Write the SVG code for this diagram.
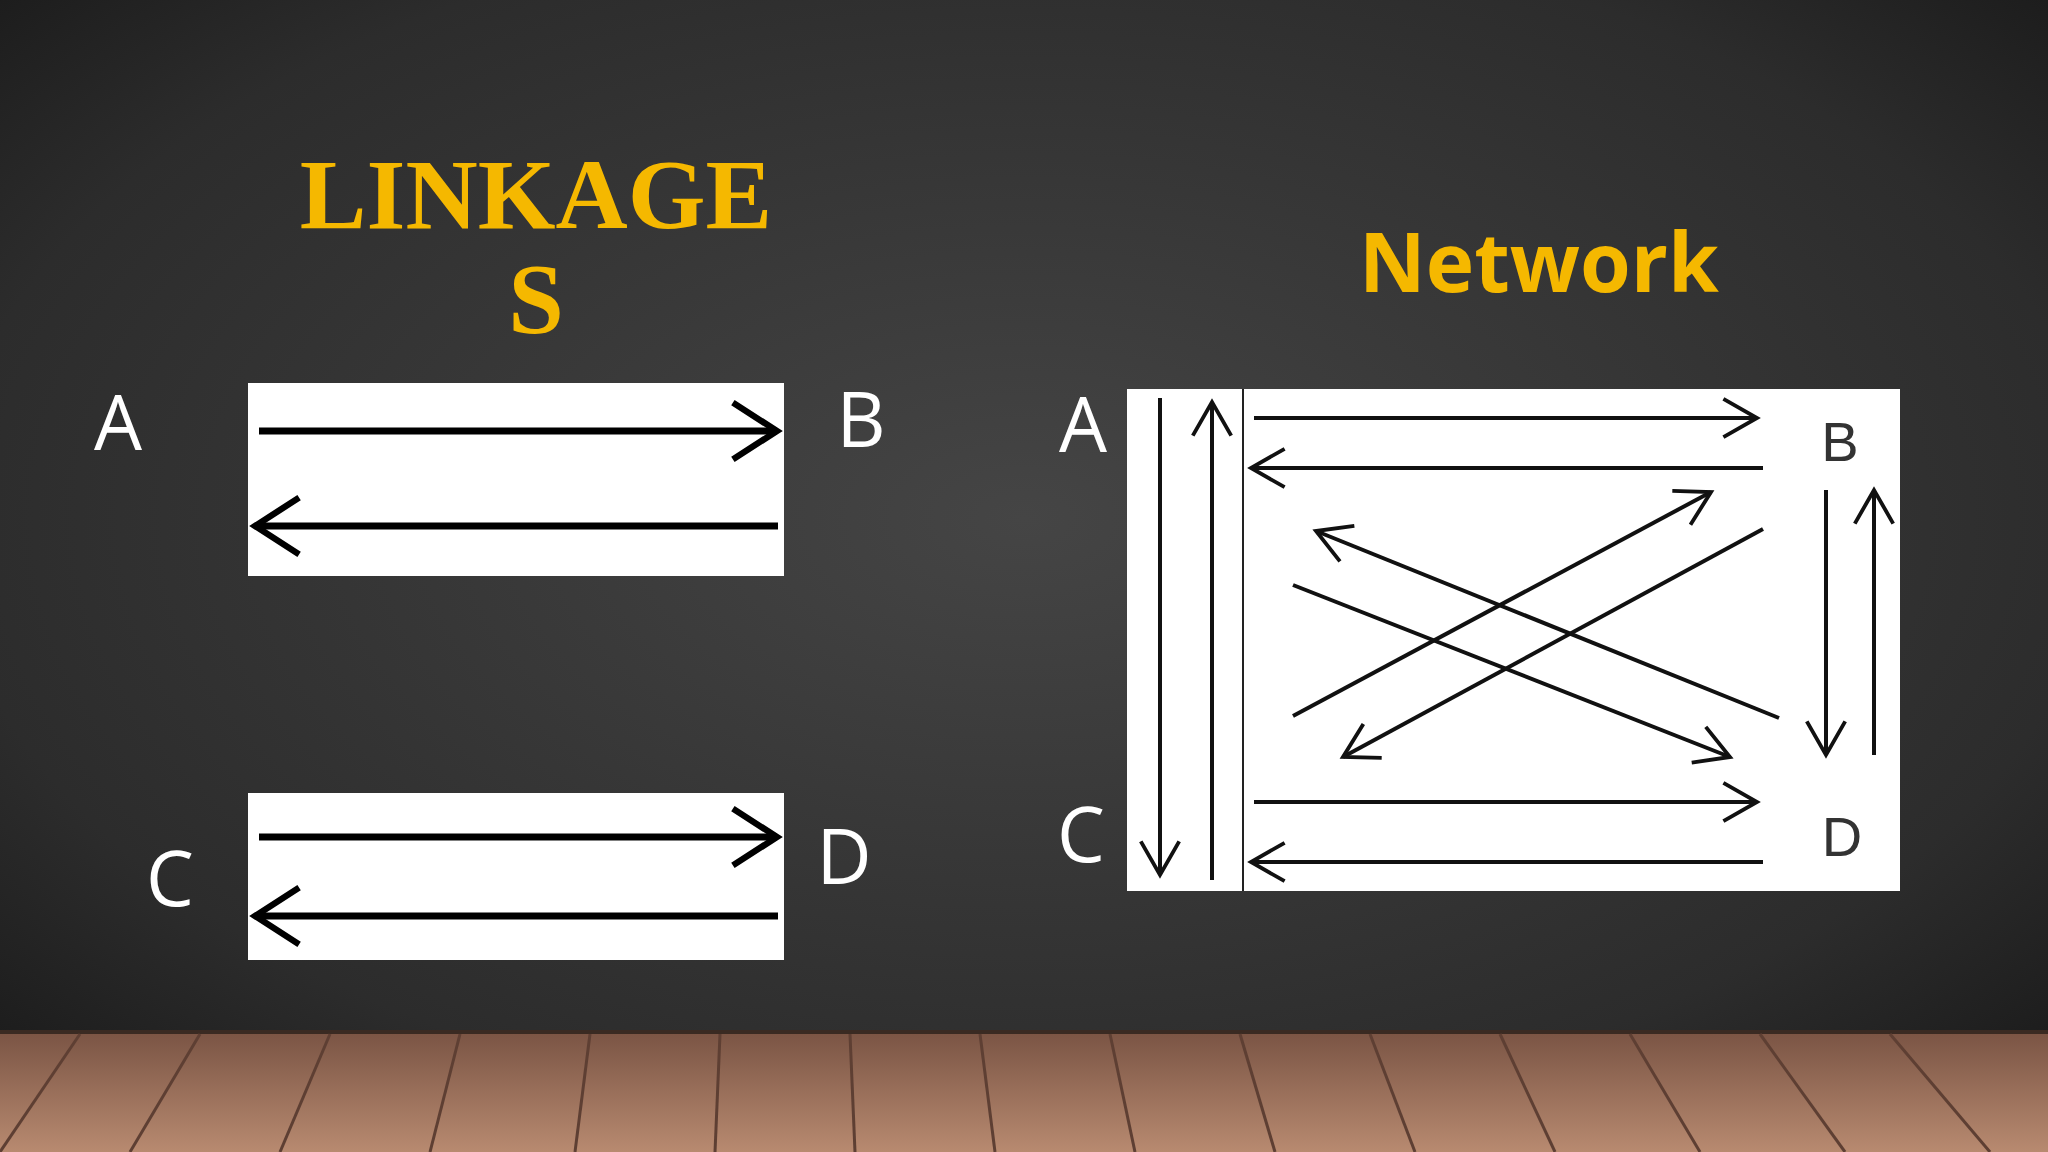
<svg xmlns="http://www.w3.org/2000/svg" width="2048" height="1152" viewBox="0 0 2048 1152">
<defs>
<radialGradient id="bg" cx="0.5" cy="0.45" r="0.75">
<stop offset="0" stop-color="#454545"/><stop offset="0.7" stop-color="#2c2c2c"/><stop offset="1" stop-color="#151515"/>
</radialGradient>
<linearGradient id="floor" x1="0" y1="0" x2="0" y2="1">
<stop offset="0" stop-color="#7a5444"/><stop offset="1" stop-color="#b88a70"/>
</linearGradient>
<marker id="v" viewBox="0 0 20 20" refX="18" refY="10" markerWidth="9" markerHeight="11" markerUnits="strokeWidth" orient="auto">
<path d="M4,1 L18,10 L4,19" fill="none" stroke="#000" stroke-width="2"/>
</marker>
<marker id="v2" viewBox="0 0 20 20" refX="18" refY="10" markerWidth="12" markerHeight="12" markerUnits="strokeWidth" orient="auto">
<path d="M4,2 L18,10 L4,18" fill="none" stroke="#111" stroke-width="1.6"/>
</marker>
</defs>
<style>
.t{font-family:"Liberation Serif",serif;font-weight:bold;fill:#f5b800;font-size:100px;text-anchor:middle}
.n{font-family:"Open Sans","Liberation Sans",sans-serif;font-weight:bold;fill:#f5b800;font-size:82px;text-anchor:middle}
.l{font-family:"Open Sans","Liberation Sans",sans-serif;fill:#fff;font-size:76px;text-anchor:middle}
.ld{font-family:"Liberation Sans",sans-serif;fill:#333;font-size:56px;text-anchor:middle}
.a{stroke:#000;stroke-width:7;fill:none;marker-end:url(#v)}
.b{stroke:#111;stroke-width:4;fill:none;marker-end:url(#v2)}
</style>
<rect width="2048" height="1152" fill="url(#bg)"/>
<rect y="1032" width="2048" height="120" fill="url(#floor)"/>
<rect y="1030" width="2048" height="4" fill="#3a2a22"/>
<g stroke="#5e3f33" stroke-width="3">
<line x1="80" y1="1034" x2="0" y2="1152"/><line x1="200" y1="1034" x2="130" y2="1152"/><line x1="330" y1="1034" x2="280" y2="1152"/><line x1="460" y1="1034" x2="430" y2="1152"/><line x1="590" y1="1034" x2="575" y2="1152"/><line x1="720" y1="1034" x2="715" y2="1152"/><line x1="850" y1="1034" x2="855" y2="1152"/><line x1="980" y1="1034" x2="995" y2="1152"/><line x1="1110" y1="1034" x2="1135" y2="1152"/><line x1="1240" y1="1034" x2="1275" y2="1152"/><line x1="1370" y1="1034" x2="1415" y2="1152"/><line x1="1500" y1="1034" x2="1555" y2="1152"/><line x1="1630" y1="1034" x2="1700" y2="1152"/><line x1="1760" y1="1034" x2="1845" y2="1152"/><line x1="1890" y1="1034" x2="1990" y2="1152"/>
</g>
<text class="t" x="536" y="228">LINKAGE</text>
<text class="t" x="536" y="332">S</text>
<text class="n" x="1539" y="292">Network</text>
<g id="linkAB">
<rect x="248" y="383" width="536" height="193" fill="#fff"/>
<text class="l" x="118" y="450">A</text><text class="l" x="861" y="447">B</text>
</g>
<g id="linkCD">
<rect x="248" y="793" width="536" height="167" fill="#fff"/>
<text class="l" x="170" y="906">C</text><text class="l" x="844" y="884">D</text>
</g>
<g id="network">
<rect x="1127" y="389" width="773" height="502" fill="#fff"/>
<line x1="1243" y1="389" x2="1243" y2="891" stroke="#222" stroke-width="2"/>
<text class="l" x="1083" y="452">A</text><text class="l" x="1081" y="862">C</text>
<text class="ld" x="1840" y="461">B</text><text class="ld" x="1842" y="856">D</text>
</g>
<g id="connectors">
<line class="a" x1="259" y1="431" x2="777" y2="431"/>
<line class="a" x1="778" y1="526" x2="255" y2="526"/>
<line class="a" x1="259" y1="837" x2="777" y2="837"/>
<line class="a" x1="778" y1="916" x2="255" y2="916"/>
<line class="b" x1="1160" y1="398" x2="1160" y2="875"/>
<line class="b" x1="1212" y1="880" x2="1212" y2="402"/>
<line class="b" x1="1254" y1="418" x2="1757" y2="418"/>
<line class="b" x1="1763" y1="468" x2="1251" y2="468"/>
<line class="b" x1="1293" y1="716" x2="1711" y2="492"/>
<line class="b" x1="1763" y1="529" x2="1343" y2="757"/>
<line class="b" x1="1293" y1="585" x2="1730" y2="757"/>
<line class="b" x1="1779" y1="718" x2="1316" y2="531"/>
<line class="b" x1="1826" y1="490" x2="1826" y2="755"/>
<line class="b" x1="1874" y1="755" x2="1874" y2="490"/>
<line class="b" x1="1254" y1="802" x2="1757" y2="802"/>
<line class="b" x1="1763" y1="862" x2="1251" y2="862"/>
</g>
</svg>
